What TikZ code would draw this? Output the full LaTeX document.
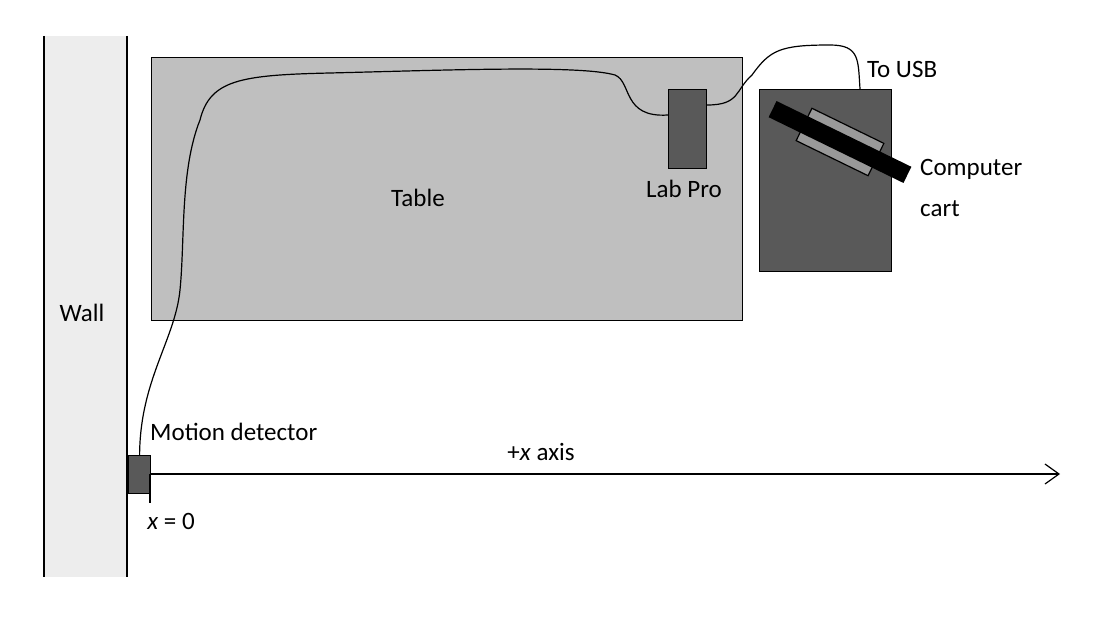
\documentclass[tikz,border=0pt]{standalone}
\usepackage{fontspec}
\setmainfont{Carlito}
\usetikzlibrary{arrows.meta}
\definecolor{wallc}{gray}{0.93}
\definecolor{tablec}{gray}{0.75}
\definecolor{darkc}{gray}{0.35}
\definecolor{lapc}{gray}{0.6}
\tikzset{lbl/.style={font=\fontsize{25}{30}\selectfont, inner sep=0pt},
 box/.style={draw=black, line width=1.2pt}}
\begin{document}
\begin{tikzpicture}[x=1pt,y=-1pt]
\useasboundingbox (0,0) rectangle (1113,618);
% wall
\fill[wallc] (44,36) rectangle (127,577);
\draw[line width=1.2pt] (44,36) -- (44,577) (127,36) -- (127,577);
\node[lbl] (wall) at (82,313) {Wall};
% table
\node[box, fill=tablec, minimum width=591pt, minimum height=263pt, anchor=north west] (table) at (151,57) {};
\node[lbl] (tablel) at (418,198) {Table};
% lab pro
\node[box, fill=darkc, minimum width=38pt, minimum height=79pt, anchor=north west, inner sep=0pt] (lab) at (668,89) {};
\node[lbl] (labl) at (684,189) {Lab Pro};
% cart
\node[box, fill=darkc, minimum width=132pt, minimum height=182pt, anchor=north west, inner sep=0pt] (cart) at (759,89) {};
\begin{scope}[shift={(840,142)}, rotate=-26]
\draw[fill=lapc, line width=1.2pt] (-40,-18) rectangle (40,18);
\fill[black] (-75,-9) rectangle (75,9);
\end{scope}
\node[lbl, anchor=west] (comp) at (920,169) {Computer};
\node[lbl, anchor=west] (cartl) at (920,209) {cart};
\node[lbl, anchor=west] (usb) at (867,69) {To USB};
% motion detector
\node[box, fill=darkc, minimum width=22pt, minimum height=38pt, anchor=north west, inner sep=0pt] (md) at (128,455) {};
\node[lbl, anchor=west] (mdl) at (150,432) {Motion detector};
% axis
\coordinate (axs) at (150,474);
\coordinate (axe) at (1060,474);
\draw[line width=1.2pt, -{Straight Barb[length=14pt,width=20pt]}] (axs) -- (axe);
\coordinate (tk) at (150,503);
\draw[line width=1.2pt] (axs) -- (tk);
\node[lbl] (axl) at (541,452) {+\textit{x} axis};
\node[lbl] (x0) at (171,521) {\textit{x} = 0};
% cables
\draw[line width=1.2pt] (md.north) .. controls (140,380) and (175,340) .. (180,290)
 .. controls (185,240) and (180,170) .. (200,120)
 .. controls (210,80) and (240,75) .. (330,73)
 .. controls (450,70) and (580,65) .. (615,75)
 .. controls (632,82) and (622,118) .. (668,115);
\draw[line width=1.2pt] (lab.east |- 0,105) .. controls (740,105) and (735,90) .. (752,75)
 .. controls (770,50) and (780,45) .. (830,45)
 .. controls (860,45) and (858,60) .. (860,89);
\end{tikzpicture}
\end{document}
